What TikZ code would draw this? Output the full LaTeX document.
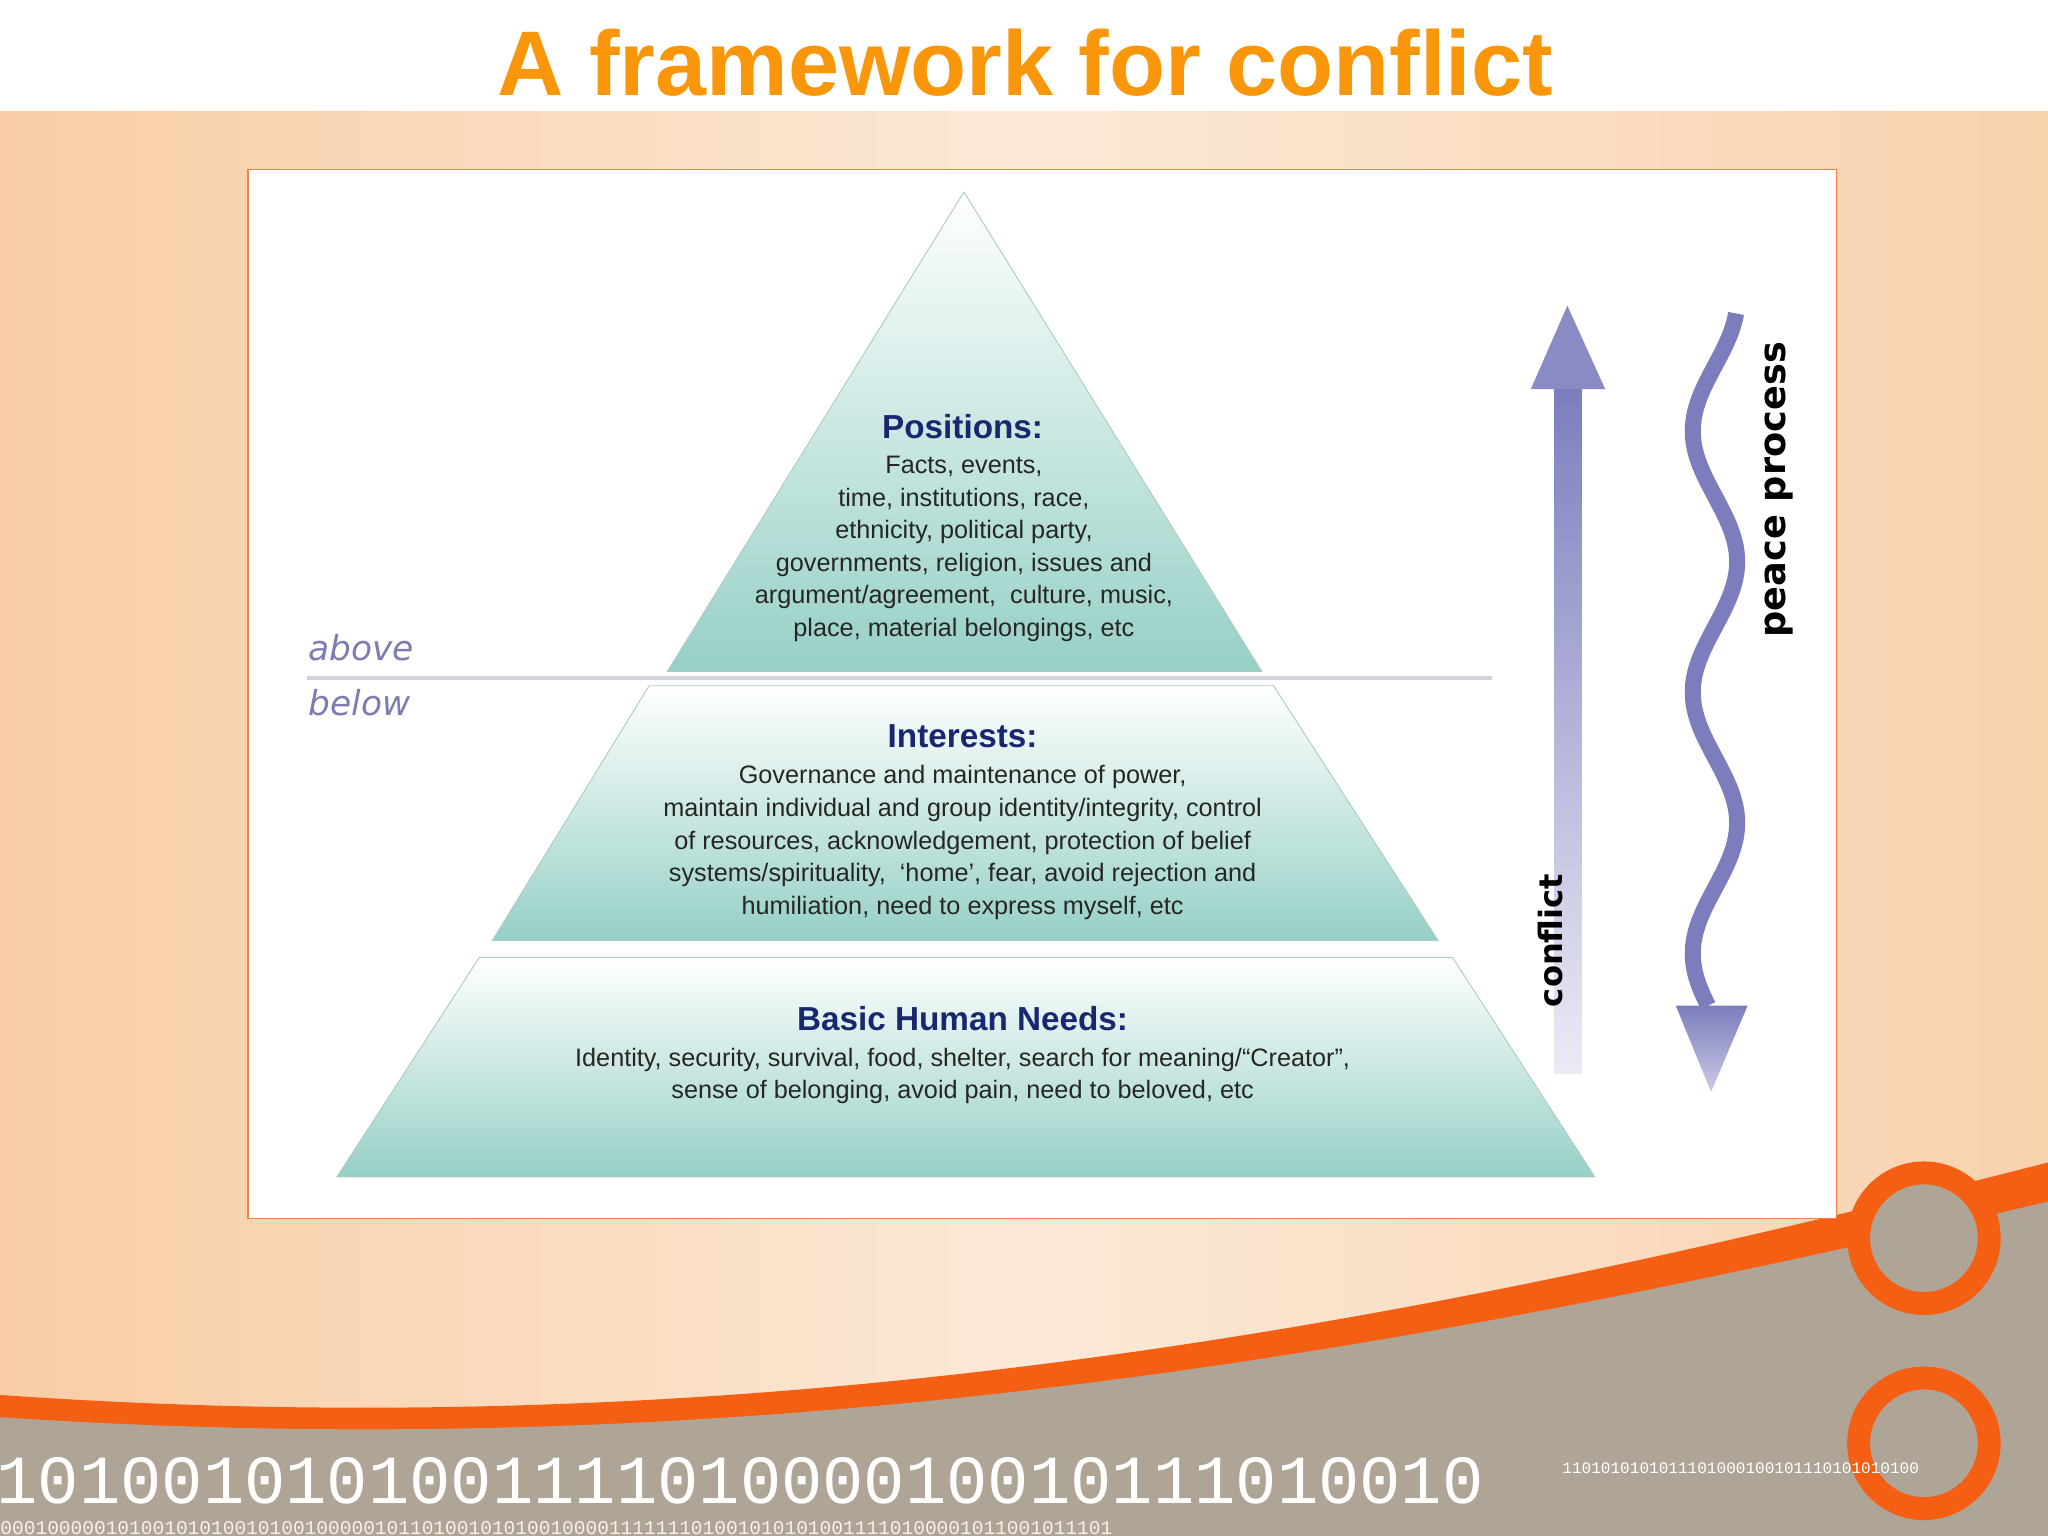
\documentclass[tikz,border=0pt]{standalone}
\usepackage{fontspec}
\setmainfont{Liberation Sans}
\newfontfamily\dejasans{DejaVu Sans}
\newfontfamily\monof{Liberation Mono}
\definecolor{ttl}{RGB}{250,150,10}
\definecolor{navy}{RGB}{25,40,110}
\definecolor{teal}{RGB}{150,208,198}
\definecolor{arrowc}{RGB}{125,125,190}
\definecolor{peach}{RGB}{248,205,165}
\definecolor{orng}{RGB}{245,95,20}
\definecolor{grayb}{RGB}{175,165,150}
\tikzset{
 body/.style={font=\fontsize{11}{14.2}\selectfont, align=center, text=black!85},
 head/.style={font=\fontsize{14.5}{16}\selectfont\bfseries, text=navy},
 tier/.style={draw=teal!80!black!60, line width=0.4pt, top color=white, bottom color=teal},
 side/.style={font=\dejasans\fontsize{14}{16}\selectfont\bfseries, text=black},
 ab/.style={font=\dejasans\fontsize{15}{16}\selectfont\itshape, text=arrowc!80!gray, anchor=west}
}
\begin{document}
\begin{tikzpicture}[x=0.02cm,y=-0.02cm]
\useasboundingbox (0,0) rectangle (1568,1176);
% background
\fill[white] (0,0) rectangle (1568,85);
\shade[left color=peach, right color=peach!45!white, shading angle=90] (0,85) rectangle (784,1176);
\shade[left color=peach!45!white, right color=peach!90!white] (784,85) rectangle (1568,1176);
% bottom decoration
\fill[orng] (0,1068) .. controls (600,1110) and (1100,1010) .. (1568,890) -- (1568,1176) -- (0,1176) -- cycle;
\fill[grayb] (0,1085) .. controls (600,1125) and (1100,1030) .. (1568,920) -- (1568,1176) -- (0,1176) -- cycle;
\draw[orng, line width=10pt, fill=grayb] (1473,948) circle (50);
\draw[orng, line width=10pt, fill=grayb] (1473,1105) circle (50);
\node[anchor=west, text=white, font=\monof\fontsize{30}{30}\selectfont, inner sep=0pt] (bin) at (-3,1134) {101001010100111101000010010111010010};
\node[anchor=west, text=white, font=\monof\fontsize{7}{7}\selectfont] (bin2) at (1190,1124) {1101010101011101000100101110101010100};
\node[anchor=west, text=white!90!orng, font=\monof\fontsize{8.5}{9}\selectfont, inner sep=0pt] (bin3) at (0,1170) {00010000010100101010010100100000101101001010100100001111111010010101010011110100001011001011101};
% title
\node[font=\fontsize{40}{42}\selectfont\bfseries, text=ttl] (title) at (785,48) {A framework for conflict};
% frame
\draw[orng!80, fill=white, line width=0.6pt] (190,130) rectangle (1406,933);
% tiers
\draw[tier] (738,147) -- (966,514) -- (511,514) -- cycle;
\draw[tier] (497,525) -- (975,525) -- (1101,720) -- (377,720) -- cycle;
\draw[tier] (367,733) -- (1112,733) -- (1221,901) -- (258,901) -- cycle;
\draw[black!20!arrowc!30, line width=1.5pt] (235,519) -- (1142,519);
% texts
\node[head] (pos) at (737,327) {Positions:};
\node[body, anchor=north] (post) at (738,343) {Facts, events,\\time, institutions, race,\\ethnicity, political party,\\governments, religion, issues and\\argument/agreement,\ \ culture, music,\\place, material belongings, etc};
\node[head] (int) at (737,564) {Interests:};
\node[body, anchor=north] (intt) at (737,580) {Governance and maintenance of power,\\maintain individual and group identity/integrity, control\\of resources, acknowledgement, protection of belief\\systems/spirituality,\ \ `home', fear, avoid rejection and\\humiliation, need to express myself, etc};
\node[head] (bhn) at (737,780) {Basic Human Needs:};
\node[body, anchor=north] (bhnt) at (737,796) {Identity, security, survival, food, shelter, search for meaning/``Creator'',\\sense of belonging, avoid pain, need to beloved, etc};
\node[ab] (above) at (230,496) {above};
\node[ab] (below) at (230,538) {below};
% conflict arrow
\shade[top color=arrowc, bottom color=arrowc!15] (1190,296) rectangle (1211,822);
\fill[arrowc!90] (1172,298) -- (1200,234) -- (1229,298) -- cycle;
\node[side, rotate=90] (conf) at (1187,720) {conflict};
% peace process
\draw[arrowc, line width=7pt] plot[domain=240:770, samples=150] ({1313+17*sin((\x-180)*1.8)}, \x);
\shade[top color=arrowc, bottom color=arrowc!40] (1283,770) -- (1338,770) -- (1310,836) -- cycle;
\node[side, rotate=90, font=\dejasans\fontsize{16}{17}\selectfont\bfseries] (peace) at (1362,375) {peace process};
\end{tikzpicture}
\end{document}
